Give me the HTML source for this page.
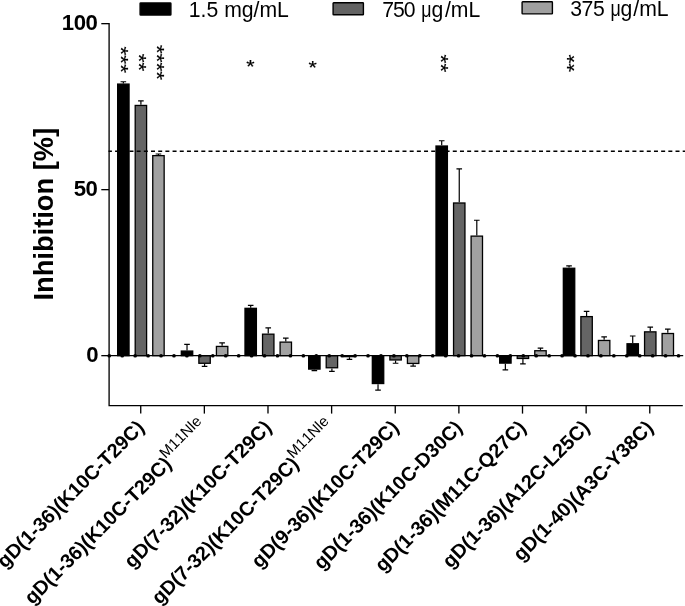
<!DOCTYPE html>
<html lang="en"><head><meta charset="utf-8"><title>Inhibition chart</title>
<style>html,body{margin:0;padding:0;background:#fff}body{width:685px;height:606px;overflow:hidden}svg{display:block}text{font-kerning:none;font-family:"Liberation Sans",Arial,Helvetica,sans-serif;fill:#000}.b{font-weight:bold}</style></head><body>
<svg width="685" height="606" viewBox="0 0 685 606">
<rect width="685" height="606" fill="#fff"/>
<rect x="140.10" y="2.90" width="30.80" height="12.20" rx="0.6" fill="#000000" stroke="#000" stroke-width="1.4"/>
<text y="16.9" font-size="21.2"><tspan x="188.80">1.5 mg/mL</tspan></text>
<rect x="333.10" y="2.70" width="30.30" height="12.10" rx="0.6" fill="#636363" stroke="#000" stroke-width="1.4"/>
<text y="16.6" font-size="21.2"><tspan x="382.30" letter-spacing="-1.0">750 </tspan><tspan x="421.25" textLength="10.26" lengthAdjust="spacingAndGlyphs">μ</tspan><tspan x="431.50">g</tspan><tspan x="444.90">/mL</tspan></text>
<rect x="522.10" y="1.80" width="30.30" height="12.10" rx="0.6" fill="#a0a0a0" stroke="#000" stroke-width="1.4"/>
<text y="16.3" font-size="21.2"><tspan x="570.20" letter-spacing="-0.4">375 </tspan><tspan x="610.50" textLength="10.26" lengthAdjust="spacingAndGlyphs">μ</tspan><tspan x="620.40">g</tspan><tspan x="633.30">/mL</tspan></text>
<path d="M123.35 83.43V81.77M120.55 81.77H126.15" stroke="#000" stroke-width="1.2" fill="none"/>
<rect x="117.65" y="84.08" width="11.40" height="271.57" fill="#000000" stroke="#000" stroke-width="1.3"/>
<path d="M140.90 104.79V100.82M138.10 100.82H143.70" stroke="#000" stroke-width="1.2" fill="none"/>
<rect x="135.20" y="105.44" width="11.40" height="250.21" fill="#656565" stroke="#000" stroke-width="1.3"/>
<path d="M158.45 154.98V153.98M155.65 153.98H161.25" stroke="#000" stroke-width="1.2" fill="none"/>
<rect x="152.75" y="155.63" width="11.40" height="200.02" fill="#a1a1a1" stroke="#000" stroke-width="1.3"/>
<path d="M187.02 350.41V344.28M184.22 344.28H189.82" stroke="#000" stroke-width="1.2" fill="none"/>
<rect x="181.32" y="351.06" width="11.40" height="4.59" fill="#000000" stroke="#000" stroke-width="1.3"/>
<path d="M204.57 363.93V366.42M201.77 366.42H207.37" stroke="#000" stroke-width="1.2" fill="none"/>
<rect x="198.87" y="355.65" width="11.40" height="7.63" fill="#656565" stroke="#000" stroke-width="1.3"/>
<path d="M222.12 345.78V342.79M219.32 342.79H224.92" stroke="#000" stroke-width="1.2" fill="none"/>
<rect x="216.42" y="346.43" width="11.40" height="9.22" fill="#a1a1a1" stroke="#000" stroke-width="1.3"/>
<path d="M250.69 307.68V305.36M247.89 305.36H253.49" stroke="#000" stroke-width="1.2" fill="none"/>
<rect x="244.99" y="308.33" width="11.40" height="47.32" fill="#000000" stroke="#000" stroke-width="1.3"/>
<path d="M268.24 333.52V327.89M265.44 327.89H271.04" stroke="#000" stroke-width="1.2" fill="none"/>
<rect x="262.54" y="334.17" width="11.40" height="21.48" fill="#656565" stroke="#000" stroke-width="1.3"/>
<path d="M285.79 341.47V338.16M282.99 338.16H288.59" stroke="#000" stroke-width="1.2" fill="none"/>
<rect x="280.09" y="342.12" width="11.40" height="13.53" fill="#a1a1a1" stroke="#000" stroke-width="1.3"/>
<path d="M314.36 369.74V370.57M311.56 370.57H317.16" stroke="#000" stroke-width="1.2" fill="none"/>
<rect x="308.66" y="355.65" width="11.40" height="13.44" fill="#000000" stroke="#000" stroke-width="1.3"/>
<path d="M331.91 368.41V371.40M329.11 371.40H334.71" stroke="#000" stroke-width="1.2" fill="none"/>
<rect x="326.21" y="355.65" width="11.40" height="12.11" fill="#656565" stroke="#000" stroke-width="1.3"/>
<path d="M349.46 357.29V359.28M346.66 359.28H352.26" stroke="#000" stroke-width="1.2" fill="none"/>
<rect x="343.76" y="355.65" width="11.40" height="0.99" fill="#a1a1a1" stroke="#000" stroke-width="1.3"/>
<path d="M378.03 384.18V390.15M375.23 390.15H380.83" stroke="#000" stroke-width="1.2" fill="none"/>
<rect x="372.33" y="355.65" width="11.40" height="27.88" fill="#000000" stroke="#000" stroke-width="1.3"/>
<path d="M395.58 360.61V363.27M392.78 363.27H398.38" stroke="#000" stroke-width="1.2" fill="none"/>
<rect x="389.88" y="355.65" width="11.40" height="4.31" fill="#656565" stroke="#000" stroke-width="1.3"/>
<path d="M413.13 364.10V366.09M410.33 366.09H415.93" stroke="#000" stroke-width="1.2" fill="none"/>
<rect x="407.43" y="355.65" width="11.40" height="7.80" fill="#a1a1a1" stroke="#000" stroke-width="1.3"/>
<path d="M441.70 145.37V140.73M438.90 140.73H444.50" stroke="#000" stroke-width="1.2" fill="none"/>
<rect x="436.00" y="146.02" width="11.40" height="209.63" fill="#000000" stroke="#000" stroke-width="1.3"/>
<path d="M459.25 202.34V168.89M456.45 168.89H462.05" stroke="#000" stroke-width="1.2" fill="none"/>
<rect x="453.55" y="202.99" width="11.40" height="152.66" fill="#656565" stroke="#000" stroke-width="1.3"/>
<path d="M476.80 235.47V220.23M474.00 220.23H479.60" stroke="#000" stroke-width="1.2" fill="none"/>
<rect x="471.10" y="236.12" width="11.40" height="119.53" fill="#a1a1a1" stroke="#000" stroke-width="1.3"/>
<path d="M505.37 363.76V369.90M502.57 369.90H508.17" stroke="#000" stroke-width="1.2" fill="none"/>
<rect x="499.67" y="355.65" width="11.40" height="7.46" fill="#000000" stroke="#000" stroke-width="1.3"/>
<path d="M522.92 359.12V363.93M520.12 363.93H525.72" stroke="#000" stroke-width="1.2" fill="none"/>
<rect x="517.22" y="355.65" width="11.40" height="2.82" fill="#656565" stroke="#000" stroke-width="1.3"/>
<path d="M540.47 350.08V348.09M537.67 348.09H543.27" stroke="#000" stroke-width="1.2" fill="none"/>
<rect x="534.77" y="350.73" width="11.40" height="4.92" fill="#a1a1a1" stroke="#000" stroke-width="1.3"/>
<path d="M569.04 267.60V265.94M566.24 265.94H571.84" stroke="#000" stroke-width="1.2" fill="none"/>
<rect x="563.34" y="268.25" width="11.40" height="87.40" fill="#000000" stroke="#000" stroke-width="1.3"/>
<path d="M586.59 315.96V311.33M583.79 311.33H589.39" stroke="#000" stroke-width="1.2" fill="none"/>
<rect x="580.89" y="316.61" width="11.40" height="39.04" fill="#656565" stroke="#000" stroke-width="1.3"/>
<path d="M604.14 339.81V336.83M601.34 336.83H606.94" stroke="#000" stroke-width="1.2" fill="none"/>
<rect x="598.44" y="340.46" width="11.40" height="15.19" fill="#a1a1a1" stroke="#000" stroke-width="1.3"/>
<path d="M632.71 343.12V336.00M629.91 336.00H635.51" stroke="#000" stroke-width="1.2" fill="none"/>
<rect x="627.01" y="343.77" width="11.40" height="11.87" fill="#000000" stroke="#000" stroke-width="1.3"/>
<path d="M650.26 331.20V327.06M647.46 327.06H653.06" stroke="#000" stroke-width="1.2" fill="none"/>
<rect x="644.56" y="331.85" width="11.40" height="23.80" fill="#656565" stroke="#000" stroke-width="1.3"/>
<path d="M667.81 332.86V329.05M665.01 329.05H670.61" stroke="#000" stroke-width="1.2" fill="none"/>
<rect x="662.11" y="333.51" width="11.40" height="22.14" fill="#a1a1a1" stroke="#000" stroke-width="1.3"/>
<line x1="108.5" stroke-dashoffset="0.6" y1="151.24" x2="686" y2="151.24" stroke="#000" stroke-width="1.4" stroke-dasharray="4 3.185"/>
<line x1="109.10" y1="355.65" x2="683.2" y2="355.65" stroke="#000" stroke-width="1.4"/>
<circle cx="109.30" cy="355.75" r="1.85" fill="#000"/>
<circle cx="122.24" cy="355.75" r="1.85" fill="#000"/>
<circle cx="135.17" cy="355.75" r="1.85" fill="#000"/>
<circle cx="148.11" cy="355.75" r="1.85" fill="#000"/>
<circle cx="161.05" cy="355.75" r="1.85" fill="#000"/>
<circle cx="173.99" cy="355.75" r="1.85" fill="#000"/>
<circle cx="186.92" cy="355.75" r="1.85" fill="#000"/>
<circle cx="199.86" cy="355.75" r="1.85" fill="#000"/>
<circle cx="212.80" cy="355.75" r="1.85" fill="#000"/>
<circle cx="225.73" cy="355.75" r="1.85" fill="#000"/>
<circle cx="238.67" cy="355.75" r="1.85" fill="#000"/>
<circle cx="251.61" cy="355.75" r="1.85" fill="#000"/>
<circle cx="264.54" cy="355.75" r="1.85" fill="#000"/>
<circle cx="277.48" cy="355.75" r="1.85" fill="#000"/>
<circle cx="290.42" cy="355.75" r="1.85" fill="#000"/>
<circle cx="303.35" cy="355.75" r="1.85" fill="#000"/>
<circle cx="316.29" cy="355.75" r="1.85" fill="#000"/>
<circle cx="329.23" cy="355.75" r="1.85" fill="#000"/>
<circle cx="342.17" cy="355.75" r="1.85" fill="#000"/>
<circle cx="355.10" cy="355.75" r="1.85" fill="#000"/>
<circle cx="368.04" cy="355.75" r="1.85" fill="#000"/>
<circle cx="380.98" cy="355.75" r="1.85" fill="#000"/>
<circle cx="393.91" cy="355.75" r="1.85" fill="#000"/>
<circle cx="406.85" cy="355.75" r="1.85" fill="#000"/>
<circle cx="419.79" cy="355.75" r="1.85" fill="#000"/>
<circle cx="432.73" cy="355.75" r="1.85" fill="#000"/>
<circle cx="445.66" cy="355.75" r="1.85" fill="#000"/>
<circle cx="458.60" cy="355.75" r="1.85" fill="#000"/>
<circle cx="471.54" cy="355.75" r="1.85" fill="#000"/>
<circle cx="484.47" cy="355.75" r="1.85" fill="#000"/>
<circle cx="497.41" cy="355.75" r="1.85" fill="#000"/>
<circle cx="510.35" cy="355.75" r="1.85" fill="#000"/>
<circle cx="523.28" cy="355.75" r="1.85" fill="#000"/>
<circle cx="536.22" cy="355.75" r="1.85" fill="#000"/>
<circle cx="549.16" cy="355.75" r="1.85" fill="#000"/>
<circle cx="562.09" cy="355.75" r="1.85" fill="#000"/>
<circle cx="575.03" cy="355.75" r="1.85" fill="#000"/>
<circle cx="587.97" cy="355.75" r="1.85" fill="#000"/>
<circle cx="600.91" cy="355.75" r="1.85" fill="#000"/>
<circle cx="613.84" cy="355.75" r="1.85" fill="#000"/>
<circle cx="626.78" cy="355.75" r="1.85" fill="#000"/>
<circle cx="639.72" cy="355.75" r="1.85" fill="#000"/>
<circle cx="652.65" cy="355.75" r="1.85" fill="#000"/>
<circle cx="665.59" cy="355.75" r="1.85" fill="#000"/>
<circle cx="678.53" cy="355.75" r="1.85" fill="#000"/>
<path d="M109.10 22.95V405.55H682.8" stroke="#000" stroke-width="1.33" fill="none" stroke-linejoin="miter"/>
<line x1="101.3" y1="23.65" x2="109.10" y2="23.65" stroke="#000" stroke-width="1.33"/>
<text class="b" x="97.45" y="29.75" font-size="22.2" letter-spacing="-0.45" text-anchor="end">100</text>
<line x1="101.3" y1="189.65" x2="109.10" y2="189.65" stroke="#000" stroke-width="1.33"/>
<text class="b" x="97.45" y="195.75" font-size="22.2" letter-spacing="-0.45" text-anchor="end">50</text>
<line x1="101.3" y1="355.65" x2="109.10" y2="355.65" stroke="#000" stroke-width="1.33"/>
<text class="b" x="98.1" y="362.00" font-size="22.2" letter-spacing="-0.45" text-anchor="end">0</text>
<line x1="140.73" y1="405.55" x2="140.73" y2="413.6" stroke="#000" stroke-width="1.33"/>
<line x1="204.36" y1="405.55" x2="204.36" y2="413.6" stroke="#000" stroke-width="1.33"/>
<line x1="267.99" y1="405.55" x2="267.99" y2="413.6" stroke="#000" stroke-width="1.33"/>
<line x1="331.62" y1="405.55" x2="331.62" y2="413.6" stroke="#000" stroke-width="1.33"/>
<line x1="395.25" y1="405.55" x2="395.25" y2="413.6" stroke="#000" stroke-width="1.33"/>
<line x1="458.88" y1="405.55" x2="458.88" y2="413.6" stroke="#000" stroke-width="1.33"/>
<line x1="522.51" y1="405.55" x2="522.51" y2="413.6" stroke="#000" stroke-width="1.33"/>
<line x1="586.14" y1="405.55" x2="586.14" y2="413.6" stroke="#000" stroke-width="1.33"/>
<line x1="649.77" y1="405.55" x2="649.77" y2="413.6" stroke="#000" stroke-width="1.33"/>
<text class="b" transform="translate(53.0 300.6) rotate(-90)" font-size="27.3">Inhibition [%]</text>
<text class="b" transform="translate(145.33 428.70) rotate(-45)" font-size="19.84" text-anchor="end">gD(1-36)(K10C-T29C)</text>
<text class="b" transform="translate(208.96 428.70) rotate(-45)" x="-51.4" font-size="19.84" text-anchor="end">gD(1-36)(K10C-T29C)</text>
<text transform="translate(208.96 428.70) rotate(-45)" x="-52.0" y="-9.3" font-size="15.1">M11Nle</text>
<text class="b" transform="translate(272.59 428.70) rotate(-45)" font-size="19.84" text-anchor="end">gD(7-32)(K10C-T29C)</text>
<text class="b" transform="translate(336.22 428.70) rotate(-45)" x="-51.4" font-size="19.84" text-anchor="end">gD(7-32)(K10C-T29C)</text>
<text transform="translate(336.22 428.70) rotate(-45)" x="-52.0" y="-9.3" font-size="15.1">M11Nle</text>
<text class="b" transform="translate(399.85 428.70) rotate(-45)" font-size="19.84" text-anchor="end">gD(9-36)(K10C-T29C)</text>
<text class="b" transform="translate(463.48 428.70) rotate(-45)" font-size="19.84" text-anchor="end">gD(1-36)(K10C-D30C)</text>
<text class="b" transform="translate(527.11 428.70) rotate(-45)" font-size="19.84" text-anchor="end">gD(1-36)(M11C-Q27C)</text>
<text class="b" transform="translate(590.74 428.70) rotate(-45)" font-size="19.84" text-anchor="end">gD(1-36)(A12C-L25C)</text>
<text class="b" transform="translate(654.37 428.70) rotate(-45)" font-size="19.84" text-anchor="end">gD(1-40)(A3C-Y38C)</text>
<text transform="translate(124.65 59.75) rotate(90) scale(1.02 0.9)" font-size="22.0" letter-spacing="0.07" text-anchor="middle" y="11.5" stroke="#000" stroke-width="0.18">***</text>
<text transform="translate(142.55 62.45) rotate(90) scale(1.02 0.9)" font-size="22.0" letter-spacing="0.07" text-anchor="middle" y="11.5" stroke="#000" stroke-width="0.18">**</text>
<text transform="translate(160.75 62.55) rotate(90) scale(1.02 0.9)" font-size="22.0" letter-spacing="0.07" text-anchor="middle" y="11.5" stroke="#000" stroke-width="0.18">****</text>
<text transform="translate(444.15 63.40) rotate(90) scale(1.02 0.9)" font-size="22.0" letter-spacing="0.07" text-anchor="middle" y="11.5" stroke="#000" stroke-width="0.18">**</text>
<text transform="translate(570.55 63.27) rotate(-90) scale(1.02 0.9)" font-size="22.0" letter-spacing="0.07" text-anchor="middle" y="11.5" stroke="#000" stroke-width="0.18">**</text>
<text transform="translate(250.50 62.70) scale(1 0.88)" y="11.18" font-size="21.5" text-anchor="middle" stroke="#000" stroke-width="0.2">*</text>
<text transform="translate(312.60 64.10) scale(1 0.88)" y="11.18" font-size="21.5" text-anchor="middle" stroke="#000" stroke-width="0.2">*</text>
</svg></body></html>
